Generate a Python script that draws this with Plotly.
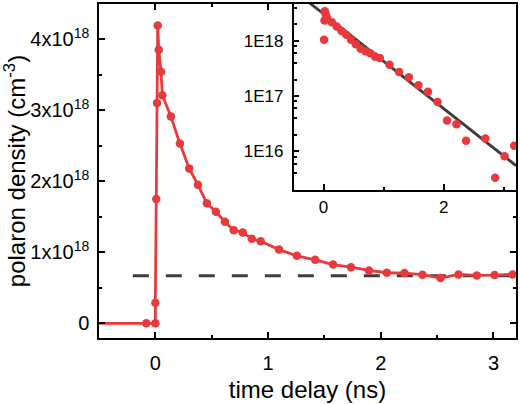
import plotly.graph_objects as go

# main panel: polaron density vs time delay
t_main = [-1.0, -0.08, 0.0, 0.0, 0.008, 0.015, 0.021, 0.03, 0.05, 0.062,
          0.138, 0.218, 0.30, 0.378, 0.457, 0.537, 0.617, 0.696, 0.775, 0.856,
          0.935, 1.097, 1.256, 1.418, 1.577, 1.736, 1.895, 2.054, 2.21, 2.37,
          2.53, 2.69, 2.853, 3.01, 3.17]
density = [0, 0, 0, 0.29e18, 1.75e18, 3.10e18, 4.19e18, 3.85e18, 3.54e18, 3.21e18,
           2.91e18, 2.53e18, 2.18e18, 1.95e18, 1.69e18, 1.57e18, 1.43e18, 1.31e18, 1.28e18, 1.19e18,
           1.155e18, 1.038e18, 0.95e18, 0.894e18, 0.828e18, 0.79e18, 0.745e18, 0.712e18, 0.707e18, 0.685e18,
           0.637e18, 0.689e18, 0.675e18, 0.679e18, 0.689e18]

# dashed offset level
t_offset = [-0.2, 3.2]
offset = [0.671e18, 0.671e18]

# inset: density minus offset, log scale
t_inset = [0.008, 0.015, 0.021, 0.03, 0.05, 0.062, 0.138, 0.218, 0.30, 0.378,
           0.457, 0.537, 0.617, 0.696, 0.775, 0.856, 0.935, 1.097, 1.256, 1.418,
           1.577, 1.736, 1.895, 2.054, 2.21, 2.37, 2.69, 2.853, 3.01, 3.17]
density_inset = [1.05e18, 2.34e18, 3.47e18, 3.16e18, 2.75e18, 2.51e18, 2.19e18, 1.82e18, 1.51e18, 1.29e18,
                 1.05e18, 8.7e17, 7.2e17, 6.5e17, 6.0e17, 5.2e17, 4.9e17, 3.7e17, 2.75e17, 2.19e17,
                 1.58e17, 1.2e17, 7.8e16, 3.6e16, 3.1e16, 1.55e16, 1.7e16, 3.3e15, 8.1e15, 1.26e16]

# exponential fit (straight on log axis), end points
t_fit = [-0.5, 3.2]
density_fit = [8.3e18, 5.5e15]

y_tickvals = [0, 1e18, 2e18, 3e18, 4e18]
y_ticktext = ['0'] + [f'{i}x10<sup>18</sup>' for i in range(1, 5)]
inset_tickvals = [1e16, 1e17, 1e18]
inset_ticktext = ['1E16', '1E17', '1E18']
inset_minor = [m * 10 ** d for d in range(15, 19) for m in (2, 4, 6, 8)]

red = '#e8393c'
grey = '#3d3d3d'
font = 'Arial, Liberation Sans, sans-serif'

fig = go.Figure()

fig.add_trace(go.Scatter(
    x=t_offset, y=offset, mode='lines',
    line=dict(color=grey, width=3, dash='16px,17px'),
    xaxis='x', yaxis='y'
))

fig.add_trace(go.Scatter(
    x=t_main, y=density, mode='lines+markers',
    line=dict(color=red, width=2.8),
    marker=dict(color=red, size=8.5),
    xaxis='x', yaxis='y'
))

fig.add_trace(go.Scatter(
    x=t_fit, y=density_fit, mode='lines',
    line=dict(color=grey, width=2.8),
    xaxis='x2', yaxis='y2'
))

fig.add_trace(go.Scatter(
    x=t_inset, y=density_inset, mode='markers',
    marker=dict(color=red, size=8.5),
    xaxis='x2', yaxis='y2'
))

axis_common = dict(
    showgrid=False, zeroline=False, showline=True,
    linecolor='black', linewidth=1.5,
    ticks='inside', tickcolor='black', tickwidth=1.5,
)
minor_ticks = dict(ticks='inside', ticklen=3.5, tickcolor='black', tickwidth=1.5)

fig.update_layout(
    width=520, height=404,
    margin=dict(l=99, r=3, t=2, b=66),
    paper_bgcolor='white', plot_bgcolor='white',
    showlegend=False,
    font=dict(family=font, color='black'),
    xaxis=dict(
        **axis_common, domain=[0, 1], range=[-0.5, 3.2],
        tickvals=[0, 1, 2, 3], ticklen=6, mirror='allticks',
        minor=dict(dtick=0.5, tick0=0, **minor_ticks),
        tickfont=dict(size=20), ticklabelstandoff=6,
        title=dict(text='time delay (ns)', font=dict(size=24), standoff=8),
    ),
    yaxis=dict(
        **axis_common, domain=[0, 1], range=[-0.206e18, 4.494e18],
        tickvals=y_tickvals, ticktext=y_ticktext, ticklen=6, mirror='allticks',
        minor=dict(dtick=0.5e18, tick0=0, **minor_ticks),
        tickfont=dict(size=20), ticklabelstandoff=4,
        title=dict(text='polaron density (cm<sup>-3</sup>)', font=dict(size=24), standoff=6),
    ),
    xaxis2=dict(
        **axis_common, domain=[0.4665, 1], range=[-0.5, 3.2], anchor='y2',
        tickvals=[0, 2], ticklen=6,
        minor=dict(tickvals=[1, 3], **minor_ticks),
        tickfont=dict(size=17), ticklabelstandoff=1,
    ),
    yaxis2=dict(
        **axis_common, domain=[0.4435, 1], type='log', range=[15.30, 18.67], anchor='x2',
        tickvals=inset_tickvals, ticktext=inset_ticktext, ticklen=6,
        minor=dict(tickvals=inset_minor, **minor_ticks),
        tickfont=dict(size=17), ticklabelstandoff=5,
    ),
)

# drop the browser's default page margin so the figure sits at the window corner
fig.write_html("out.html", config={'displayModeBar': False},
               post_script="document.body.style.margin='0';")
